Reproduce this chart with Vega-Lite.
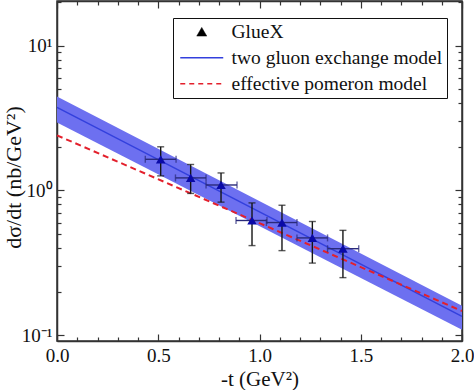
{
  "$schema": "https://vega.github.io/schema/vega-lite/v6.json",
  "width": 405,
  "height": 340,
  "autosize": {"type": "none"},
  "padding": {"left": 57, "top": 1, "right": 12, "bottom": 49},
  "background": "white",
  "config": {
    "view": {"stroke": "#333", "strokeWidth": 1.5},
    "font": "Liberation Serif",
    "axis": {
      "labelFont": "Liberation Serif",
      "titleFont": "Liberation Serif",
      "labelFontSize": 19,
      "titleFontSize": 20,
      "titleFontWeight": "normal",
      "labelColor": "#111",
      "titleColor": "#111",
      "domainColor": "#333",
      "domainWidth": 1.5,
      "tickColor": "#333",
      "tickWidth": 1.2,
      "grid": false
    }
  },
  "datasets": {
    "gluex": [
      {"t": 0.512, "y": 1.64, "ylo": 1.26, "yhi": 2.0, "tlo": 0.436, "thi": 0.588},
      {"t": 0.66, "y": 1.22, "ylo": 0.953, "yhi": 1.51, "tlo": 0.585, "thi": 0.736},
      {"t": 0.81, "y": 1.09, "ylo": 0.83, "yhi": 1.32, "tlo": 0.736, "thi": 0.889},
      {"t": 0.963, "y": 0.62, "ylo": 0.416, "yhi": 0.82, "tlo": 0.884, "thi": 1.037},
      {"t": 1.111, "y": 0.6, "ylo": 0.384, "yhi": 0.79, "tlo": 1.034, "thi": 1.185},
      {"t": 1.261, "y": 0.47, "ylo": 0.315, "yhi": 0.61, "tlo": 1.185, "thi": 1.336},
      {"t": 1.412, "y": 0.396, "ylo": 0.25, "yhi": 0.53, "tlo": 1.336, "thi": 1.49}
    ],
    "twogluon": [
      {"t": 0.0, "mid": 3.74, "lo": 2.94, "hi": 4.45, "series": "two gluon exchange model"},
      {"t": 2.0, "mid": 0.135, "lo": 0.109, "hi": 0.16, "series": "two gluon exchange model"}
    ],
    "pomeron": [
      {"t": 0.0, "y": 2.4, "series": "effective pomeron model"},
      {"t": 2.0, "y": 0.147, "series": "effective pomeron model"}
    ]
  },
  "resolve": {"axis": {"x": "independent", "y": "independent"}},
  "layer": [
    {
      "data": {"name": "twogluon"},
      "mark": {"type": "area", "color": "#6d70f0", "opacity": 1},
      "encoding": {
        "x": {"field": "t", "type": "quantitative",
          "scale": {"domain": [0, 2], "nice": false, "zero": false},
          "axis": {"orient": "bottom", "values": [0, 0.5, 1, 1.5, 2], "format": ".1f", "tickSize": -7, "labelPadding": 12, "title": "-t (GeV²)", "titleFontSize": 21, "titlePadding": 3, "labelFlush": false}},
        "y": {"field": "lo", "type": "quantitative",
          "scale": {"type": "log", "domain": [0.0913, 20.3], "nice": false},
          "axis": {"orient": "left", "values": [0.1, 1, 10], "tickSize": -7, "labelPadding": 12,
            "labelExpr": "datum.value == 10 ? '10¹' : datum.value == 1 ? '10⁰' : '10⁻¹'",
            "title": "dσ/dt (nb/GeV²)", "titleFontSize": 22, "titleX": -44, "titleY": 176, "titleBaseline": "middle"}},
        "y2": {"field": "hi"}
      }
    },
    {
      "data": {"name": "twogluon"},
      "mark": {"type": "line", "strokeWidth": 1.5},
      "encoding": {
        "x": {"field": "t", "type": "quantitative",
          "axis": {"orient": "bottom", "values": [0.1,0.2,0.3,0.4,0.6,0.7,0.8,0.9,1.1,1.2,1.3,1.4,1.6,1.7,1.8,1.9], "tickSize": -4, "labels": false, "domain": false, "title": null}},
        "y": {"field": "mid", "type": "quantitative",
          "axis": {"orient": "left", "values": [0.2,0.3,0.4,0.5,0.6,0.7,0.8,0.9,2,3,4,5,6,7,8,9,20], "tickSize": -4, "labels": false, "domain": false, "title": null}},
        "color": {"field": "series", "type": "nominal",
          "scale": {"domain": ["GlueX", "two gluon exchange model", "effective pomeron model"], "range": ["#000000", "#3340dd", "#e3202c"]},
          "legend": {
            "orient": "none", "legendX": 116, "legendY": 17, "title": null,
            "padding": 4, "strokeColor": "#111", "fillColor": "#fff", "cornerRadius": 0,
            "labelFont": "Liberation Serif", "labelFontSize": 19.5, "labelColor": "#111", "labelLimit": 400,
            "labelOffset": 20, "symbolOffset": 15, "rowPadding": 5, "symbolSize": 100,
            "symbolStrokeWidth": 1.5,
            "encode": {"symbols": {"update": {
              "shape": {"signal": "datum.value === 'GlueX' ? 'triangle-up' : 'M-4.3,0H4.3'"},
              "size": {"value": 100},
              "fill": {"signal": "datum.value === 'GlueX' ? '#000' : 'transparent'"},
              "stroke": {"signal": "datum.value === 'GlueX' ? '#000' : scale('color', datum.value)"},
              "strokeWidth": {"signal": "datum.value === 'GlueX' ? 0.5 : 1.5"},
              "strokeDash": {"signal": "datum.value === 'effective pomeron model' ? [5, 4] : [1, 0]"},
              "opacity": {"value": 1}
            }}}
          }}
      }
    },
    {
      "data": {"name": "pomeron"},
      "mark": {"type": "line", "strokeWidth": 2, "strokeDash": [6, 4]},
      "encoding": {
        "x": {"field": "t", "type": "quantitative",
          "axis": {"orient": "top", "values": [0, 0.5, 1, 1.5, 2], "tickSize": -7, "labels": false, "title": null}},
        "y": {"field": "y", "type": "quantitative",
          "axis": {"orient": "right", "values": [0.1, 1, 10], "tickSize": -7, "labels": false, "title": null}},
        "color": {"field": "series", "type": "nominal"}
      }
    },
    {
      "data": {"name": "gluex"},
      "mark": {"type": "errorbar", "ticks": {"size": 7}, "color": "#151515", "thickness": 1.4},
      "encoding": {
        "x": {"field": "t", "type": "quantitative", "axis": null},
        "y": {"field": "ylo", "type": "quantitative", "axis": null},
        "y2": {"field": "yhi"}
      }
    },
    {
      "data": {"name": "gluex"},
      "mark": {"type": "errorbar", "ticks": {"size": 7}, "color": "#2a2a7a", "thickness": 1.4},
      "encoding": {
        "y": {"field": "y", "type": "quantitative", "axis": null},
        "x": {"field": "tlo", "type": "quantitative", "axis": null},
        "x2": {"field": "thi"}
      }
    },
    {
      "data": {"name": "gluex"},
      "mark": {"type": "point", "shape": "triangle-up", "filled": true, "size": 90, "color": "#0a0aa8", "opacity": 1},
      "encoding": {
        "x": {"field": "t", "type": "quantitative",
          "axis": {"orient": "top", "values": [0.1,0.2,0.3,0.4,0.6,0.7,0.8,0.9,1.1,1.2,1.3,1.4,1.6,1.7,1.8,1.9], "tickSize": -4, "labels": false, "domain": false, "title": null}},
        "y": {"field": "y", "type": "quantitative",
          "axis": {"orient": "right", "values": [0.2,0.3,0.4,0.5,0.6,0.7,0.8,0.9,2,3,4,5,6,7,8,9,20], "tickSize": -4, "labels": false, "domain": false, "title": null}}
      }
    }
  ]
}
